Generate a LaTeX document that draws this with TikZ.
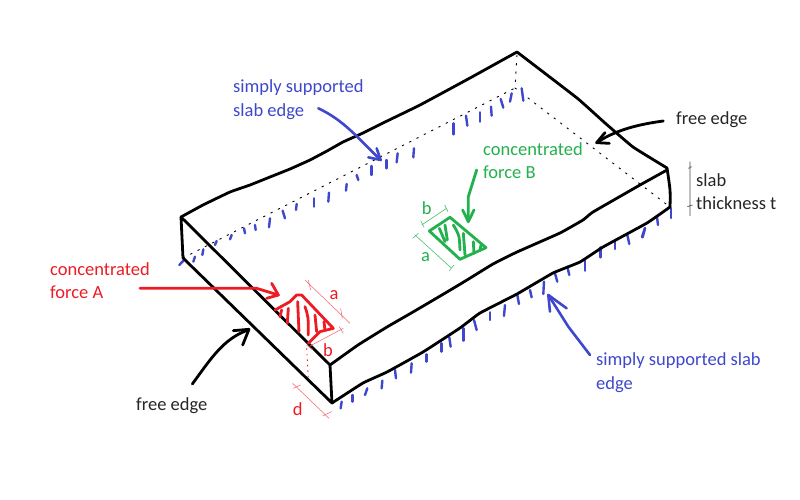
\documentclass[tikz,border=0pt]{standalone}
\usepackage{fontspec}
\setmainfont{Carlito}
\definecolor{sblue}{RGB}{63,72,204}
\definecolor{sred}{RGB}{237,28,36}
\definecolor{sgreen}{RGB}{34,177,76}
\tikzset{
  ink/.style={line width=2.8pt,line cap=round,line join=round,black},
  tick/.style={line width=2.4pt,line cap=round,sblue},
  hatchred/.style={line width=2.8pt,line cap=round,line join=round,sred},
  hatchgreen/.style={line width=2.8pt,line cap=round,line join=round,sgreen},
  dimred/.style={line width=0.55pt,sred!65},
  dimgreen/.style={line width=0.6pt,sgreen!80},
  dimgray/.style={line width=0.6pt,black!70},
  hidden/.style={line width=0.9pt,black,dash pattern=on 2.2pt off 6pt},
  lbl/.style={anchor=west,inner sep=0pt,font=\fontsize{18.5pt}{18pt}\selectfont,align=left},
  dimtext/.style={inner sep=0pt,font=\fontsize{18.5pt}{18pt}\selectfont},
}
\begin{document}
\begin{tikzpicture}[x=1pt,y=-1pt]
\useasboundingbox (0,0) rectangle (800,500);
\fill[white] (0,0) rectangle (800,500);
% hidden edges
\draw[hidden] (183,258) -- (515,88);
\draw[hidden] (517,55) -- (515,88) -- (670,207);
% back ticks
\begin{scope}[shift={(170,80)},x=0.3333pt,y=-0.3333pt]
\foreach \a/\b/\c/\d in {28/555/42/540,70/545/75/530,97/525/100/508,135/495/140/483,180/478/185/465,225/460/222/445,257/450/255/435,297/442/300/415,345/415/338/392,378/390/380/372,432/380/432/355,475/365/477/338,528/332/530/312,565/300/560/285,605/285/605/258,650/265/650/240,680/247/683/220,730/232/732/205}
  \draw[tick] (\a,\b) -- (\c,\d);
\end{scope}
\begin{scope}[shift={(410,75)},x=0.3333pt,y=-0.3333pt]
\foreach \a/\b/\c/\d in {130/178/130/145,172/152/168/122,210/140/210/112,245/122/243/95,280/98/272/72,300/80/305/55,340/77/335/40}
  \draw[tick] (\a,\b) -- (\c,\d);
\end{scope}
% front ticks
\begin{scope}[shift={(320,220)},x=0.3333pt,y=-0.3333pt]
\foreach \a/\b/\c/\d in {62/565/65/545,97/545/97/525,135/525/142/505,185/505/187/482,228/475/225/450,273/458/275/430,320/425/320/403,365/395/365/370,392/380/388/352,430/362/430/325,470/330/462/300,510/300/510/277,552/288/555/255,597/252/592/225,635/232/630/210,670/222/672/185,712/185/705/160,748/165/742/140,795/152/795/122,842/112/842/82,885/87/885/60,928/72/922/45,968/52/975/25}
  \draw[tick] (\a,\b) -- (\c,\d);
\end{scope}
\draw[tick] (642,237) -- (645,228);
\draw[tick] (658,225) -- (657,217);
\draw[tick] (671,218) -- (671,208);
% slab outline
\draw[ink] plot[smooth,tension=0.2] coordinates {(181,217) (203,205) (230,192) (250,185) (270,177) (290,169) (310,160) (327,151) (343,142) (363,133) (383,123) (420,105) (470,78) (517,52)};
\draw[ink] plot[smooth,tension=0.2] coordinates {(517,52) (577,98) (605,123) (633,147) (667,168)};
\draw[ink] plot[smooth,tension=0.5] coordinates {(667,168) (670,190) (670,207)};
\draw[ink] plot[smooth,tension=0.2] coordinates {(330,365) (358,345) (387,327) (413,312) (447,292) (467,280) (493,264) (517,252) (560,233) (583,220) (593,212) (640,185) (667,170)};
\draw[ink] plot[smooth,tension=0.2] coordinates {(332,403) (363,383) (387,372) (423,352) (460,328) (480,313) (517,294) (553,273) (580,262) (603,247) (647,223) (670,207)};
\draw[ink] (181,217) -- (330,365) -- (332,403) -- (183,258) -- cycle;
% red patch
\begin{scope}[shift={(130,260)},x=0.3333pt,y=-0.3333pt]
\draw[hatchred] (435,150) -- (480,125) -- (500,105) -- (515,105) -- (610,205) -- (570,215) -- (535,250);
\draw[hatchred] (455,150) -- (450,170) (475,145) -- (472,190) (503,125) -- (507,215) (525,140) .. controls (535,170) .. (535,225) (555,165) -- (560,215) (582,185) -- (585,210);
\draw[hatchred] (30,85) -- (380,85) -- (445,105);
\draw[hatchred] (425,70) -- (445,105) -- (410,115);
\draw[dimred] (525,60) -- (660,190) (535,60) -- (542,90) (632,145) -- (637,175);
\draw[dimred] (540,258) -- (640,205) (530,255) -- (548,270) (628,200) -- (640,220);
\draw[dimred] (488,370) -- (597,475) (512,375) -- (490,385) (605,455) -- (578,468);
\draw[sred,line width=0.9pt,dash pattern=on 1.5pt off 4pt] (530,265) -- (535,355);
\draw[ink] (187,372) .. controls (240,300) and (280,235) .. (355,210);
\draw[ink] (310,212) -- (357,208) -- (338,255);
\node[text=sred,dimtext] (la) at (612,105) {a};
\node[text=sred,dimtext] (lb) at (594,270) {b};
\node[text=sred,dimtext] (ld) at (503,447) {d};
\end{scope}
% green patch
\begin{scope}[shift={(400,170)},x=0.3333pt,y=-0.3333pt]
\draw[hatchgreen] (88,183) -- (150,142) -- (258,233) -- (180,268) -- cycle;
\draw[hatchgreen] (118,175) -- (135,215) (135,165) -- (142,210) (160,165) .. controls (178,195) .. (180,240) (190,190) -- (195,255) (220,215) -- (222,250) (243,225) -- (240,240);
\draw[hatchgreen] (230,0) -- (205,80) -- (205,155);
\draw[hatchgreen] (188,120) -- (205,155) -- (222,120);
\draw[dimgreen] (65,165) -- (140,115) (62,152) -- (72,172) (134,105) -- (144,125);
\draw[dimgreen] (45,195) -- (155,295) (38,205) -- (55,190) (148,302) -- (162,285);
\node[text=sgreen,dimtext] (ga) at (77,262) {a};
\node[text=sgreen,dimtext] (gb) at (80,115) {b};
\end{scope}
% free edge arrow, right
\begin{scope}[shift={(500,40)},x=0.3333pt,y=-0.3333pt]
\draw[ink] (490,243) .. controls (400,255) and (340,275) .. (290,308);
\draw[ink] (315,278) -- (290,308) -- (328,310);
\draw[dimgray] (570,365) -- (570,528) (565,385) -- (575,380) (562,500) -- (578,495);
\end{scope}
% blue arrows
\begin{scope}[shift={(170,80)},x=0.3333pt,y=-0.3333pt]
\draw[tick,line width=2.6pt,line join=round] (445,85) .. controls (520,120) and (560,170) .. (632,240);
\draw[tick,line width=2.6pt,line join=round] (595,232) -- (632,240) -- (620,205);
\end{scope}
\begin{scope}[shift={(320,220)},x=0.3333pt,y=-0.3333pt]
\draw[tick,line width=2.6pt,line join=round] (810,405) -- (745,320) -- (685,225);
\draw[tick,line width=2.6pt,line join=round] (690,275) -- (685,225) -- (740,265);
\end{scope}
% labels
\node[lbl,text=sblue] (ss1) at (233,99.5) {simply supported\\[6pt]slab edge};
\node[lbl,text=sblue] (ss2) at (596,373) {simply supported slab\\[6pt]edge};
\node[lbl,text=sgreen] (cb) at (483,160.5) {concentrated\\[5pt]force B};
\node[lbl,text=sred] (ca) at (50,281) {concentrated\\[5pt]force A};
\node[lbl,text=black!85] (fe1) at (676,120) {free edge};
\node[lbl,text=black!85] (fe2) at (136,406) {free edge};
\node[lbl,text=black!85] (th) at (696,191.5) {slab\\[5pt]thickness t};
\end{tikzpicture}
\end{document}
